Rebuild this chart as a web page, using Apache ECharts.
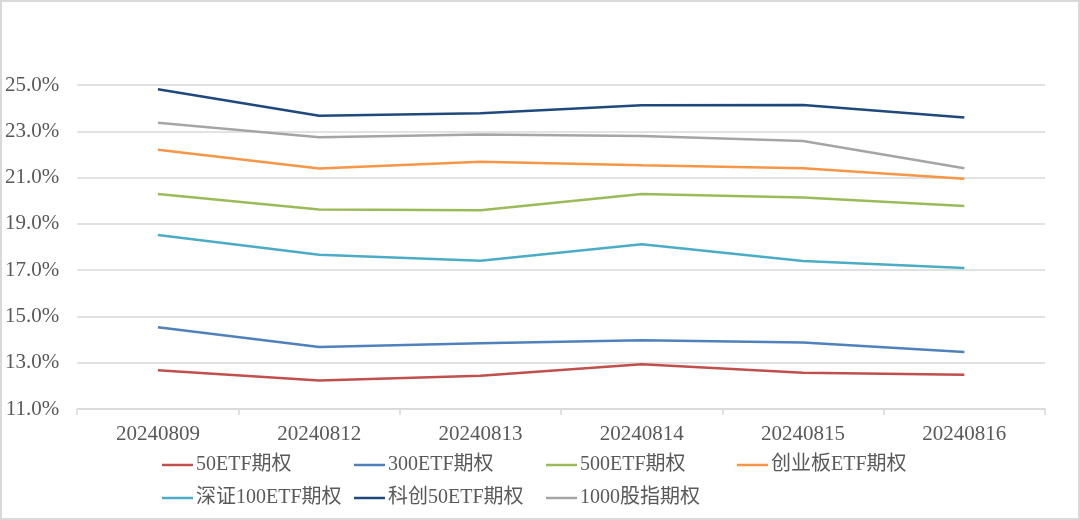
<!DOCTYPE html>
<html>
<head>
<meta charset="utf-8">
<script src="https://cdn.jsdelivr.net/npm/echarts@6/dist/echarts.min.js"></script>
<style>
html,body{margin:0;padding:0;background:#fff;}
#c{position:absolute;left:0;top:0;width:1076px;height:516px;border:2px solid #d9d9d9;}
</style>
</head>
<body>
<div id="c"></div>
<script>
const categories = ['20240809','20240812','20240813','20240814','20240815','20240816'];
const seriesNames = ['50ETF期权','300ETF期权','500ETF期权','创业板ETF期权','深证100ETF期权','科创50ETF期权','1000股指期权'];
const s50 = [12.67, 12.23, 12.44, 12.93, 12.57, 12.48];
const s300 = [14.53, 13.68, 13.84, 13.97, 13.87, 13.46];
const s500 = [20.29, 19.62, 19.59, 20.29, 20.14, 19.77];
const sCyb = [22.20, 21.39, 21.68, 21.53, 21.40, 20.95];
const sSz100 = [18.52, 17.67, 17.41, 18.12, 17.40, 17.09];
const sKc50 = [24.82, 23.67, 23.78, 24.13, 24.14, 23.60];
const s1000 = [23.37, 22.74, 22.86, 22.80, 22.58, 21.40];
const yTicks = [11, 13, 15, 17, 19, 21, 23, 25];

const values = [s50, s300, s500, sCyb, sSz100, sKc50, s1000];
const colors = ['#c0504d','#4f81bd','#9bbb59','#f79646','#4bacc6','#1f497d','#a5a5a5'];
const legendPos = [[160,453],[352,453],[544,453],[735,453],[160,486],[352,486],[544,486]];
const fontFam = '"Liberation Serif", "Times New Roman", "Noto Sans CJK SC", serif';

const chart = echarts.init(document.getElementById('c'), null, {renderer:'canvas'});
const option = {
  animation: false,
  backgroundColor: '#fff',
  grid: {left: 75, right: 33, top: 83, bottom: 109, containLabel: false},
  xAxis: {
    type: 'category',
    data: categories,
    boundaryGap: true,
    axisLine: {lineStyle: {color: '#d9d9d9', width: 1.5}},
    axisTick: {show: true, length: 6, interval: 0, lineStyle: {color: '#d9d9d9', width: 1.5}},
    axisLabel: {color: '#595959', fontSize: 21, fontFamily: fontFam, margin: 15}
  },
  yAxis: {
    type: 'value',
    min: yTicks[0],
    max: yTicks[yTicks.length-1],
    interval: 2,
    axisLine: {show: false},
    axisTick: {show: false},
    splitLine: {lineStyle: {color: '#d9d9d9', width: 1.5}},
    axisLabel: {color: '#595959', fontSize: 21, fontFamily: fontFam, margin: 18,
      formatter: v => v.toFixed(1) + '%'}
  },
  legend: seriesNames.map((n, i) => ({
    data: [n],
    left: legendPos[i][0],
    top: legendPos[i][1],
    icon: 'rect',
    itemWidth: 31,
    itemHeight: 2.5,
    itemGap: 4,
    padding: 0,
    textStyle: {color: '#595959', fontSize: 20, fontFamily: fontFam, padding: [0,0,0,-2]}
  })),
  series: seriesNames.map((n, i) => ({
    name: n,
    type: 'line',
    data: values[i],
    symbol: 'none',
    lineStyle: {color: colors[i], width: 2.5},
    itemStyle: {color: colors[i]}
  }))
};
chart.setOption(option);
</script>
</body>
</html>
